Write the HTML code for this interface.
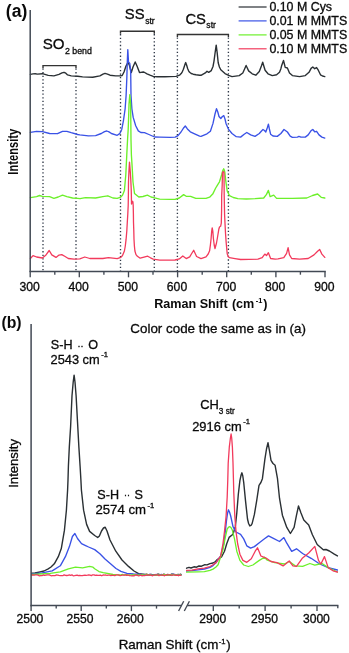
<!DOCTYPE html>
<html lang="en"><head><meta charset="utf-8"><title>Raman spectra</title>
<style>
html,body{margin:0;padding:0;background:#fff;}
svg{display:block;filter:blur(0.35px);}
text{font-family:"Liberation Sans",Arial,Helvetica,sans-serif;fill:#0a0a0a;stroke:#0a0a0a;stroke-width:0.3px;}
.b{font-weight:bold;stroke:none;}
</style></head><body>
<svg width="349" height="653" viewBox="0 0 349 653">
<rect x="0" y="0" width="349" height="653" fill="#ffffff"/>
<g id="panel-a">
<line x1="43.0" y1="68.5" x2="43.0" y2="270.9" stroke="#2e3746" stroke-width="1.35" stroke-dasharray="1.3 2.28"/>
<line x1="76.0" y1="68.5" x2="76.0" y2="270.9" stroke="#2e3746" stroke-width="1.35" stroke-dasharray="1.3 2.28"/>
<polyline points="43.0,68.2 43.0,65.6 76.0,65.6 76.0,68.2" fill="none" stroke="#333" stroke-width="1.4"/>
<line x1="120.5" y1="34.1" x2="120.5" y2="270.9" stroke="#2e3746" stroke-width="1.35" stroke-dasharray="1.3 2.28"/>
<line x1="154.3" y1="34.1" x2="154.3" y2="270.9" stroke="#2e3746" stroke-width="1.35" stroke-dasharray="1.3 2.28"/>
<polyline points="120.5,33.8 120.5,31.2 154.3,31.2 154.3,33.8" fill="none" stroke="#333" stroke-width="1.4"/>
<line x1="177.4" y1="37.4" x2="177.4" y2="270.9" stroke="#2e3746" stroke-width="1.35" stroke-dasharray="1.3 2.28"/>
<line x1="228.4" y1="37.4" x2="228.4" y2="270.9" stroke="#2e3746" stroke-width="1.35" stroke-dasharray="1.3 2.28"/>
<polyline points="177.4,37.1 177.4,34.5 228.4,34.5 228.4,37.1" fill="none" stroke="#333" stroke-width="1.4"/>
<polyline points="30.4,74.4 33.0,73.9 35.2,73.7 37.4,74.1 42.4,73.7 48.2,75.4 53.9,75.9 59.0,74.4 62.0,72.9 64.0,72.3 65.8,73.2 67.6,74.9 71.2,75.9 77.7,76.3 82.6,76.9 92.7,77.3 99.9,75.9 103.0,74.2 105.0,73.4 107.5,74.1 110.0,75.2 115.7,75.9 120.4,75.8 122.2,75.5 124.0,72.0 126.0,66.0 128.0,62.4 129.3,65.0 131.3,72.5 133.0,67.0 135.2,62.0 137.0,66.0 139.5,72.5 141.5,72.3 143.8,72.0 147.0,73.8 150.0,75.2 153.2,76.4 157.0,76.8 165.0,76.8 170.0,76.6 176.0,76.4 179.5,75.2 181.2,73.6 182.4,71.6 183.4,69.2 184.3,66.5 185.1,64.0 185.7,62.6 186.6,65.0 187.7,68.7 188.6,70.8 189.6,72.3 191.2,73.5 193.2,74.2 196.0,74.8 199.6,75.2 201.0,75.3 205.3,72.9 207.0,71.2 208.7,72.4 211.3,70.6 213.0,66.5 214.0,61.1 215.2,52.0 216.2,45.2 217.2,53.0 218.2,62.8 219.4,67.0 220.8,69.8 225.0,73.6 228.6,75.3 232.0,76.6 239.2,75.6 242.8,73.0 244.8,68.5 246.1,65.5 247.3,68.0 248.6,70.9 252.2,73.8 255.8,75.2 259.3,71.6 261.4,66.0 262.7,62.2 263.8,66.0 265.1,70.2 268.0,73.8 272.3,75.6 276.6,74.8 279.5,72.3 280.8,69.0 281.6,65.8 283.5,60.4 284.4,64.0 285.2,67.3 287.4,68.0 289.5,73.0 292.4,75.6 299.6,76.6 305.3,75.6 309.0,72.3 311.1,68.4 312.8,67.0 314.7,68.7 316.6,67.6 318.3,70.2 320.5,74.8 322.5,76.0 324.8,76.6" fill="none" stroke="#2a3034" stroke-width="1.4" stroke-linejoin="round" stroke-linecap="round"/>
<polyline points="30.4,132.4 36.6,131.3 42.4,131.6 49.6,133.5 57.5,133.7 62.5,131.3 66.9,131.3 71.2,132.7 77.7,134.5 79.8,134.9 88.4,135.9 95.6,135.6 101.3,133.5 104.5,131.6 106.8,131.0 109.0,131.9 111.4,133.5 117.2,135.3 119.7,133.6 120.6,132.0 121.8,129.2 123.4,120.8 125.1,109.0 126.1,95.5 126.8,78.7 127.3,61.8 127.8,49.6 128.5,61.8 129.8,63.5 130.7,71.9 131.0,95.5 131.9,109.0 133.2,117.4 135.7,125.8 138.3,130.9 140.8,132.5 144.5,132.7 148.9,134.5 154.6,137.0 160.0,137.1 170.0,137.3 175.2,137.1 178.0,135.6 181.0,132.0 183.8,127.7 185.3,126.0 187.4,128.9 190.3,131.8 194.6,133.8 199.6,136.1 201.0,136.3 207.0,133.8 210.4,131.2 213.0,123.4 215.0,114.0 216.5,108.7 217.8,112.0 219.0,116.5 220.8,118.5 222.4,116.5 223.8,115.6 225.0,119.0 226.0,123.4 228.6,129.4 232.0,133.5 236.3,136.7 240.6,137.1 244.2,134.2 246.8,132.5 250.7,134.9 255.0,136.4 259.3,133.5 261.5,131.0 263.0,129.5 264.5,130.5 265.8,132.0 267.4,127.5 268.4,124.1 269.4,129.0 270.6,134.2 273.0,136.0 277.3,136.4 280.9,133.5 284.0,129.5 287.4,132.0 290.2,136.1 292.4,137.4 297.4,137.1 298.9,136.4 301.0,137.2 305.3,137.1 308.2,134.9 311.1,130.6 312.8,129.5 314.7,131.8 316.6,131.3 319.0,134.9 321.9,137.1 324.8,138.1" fill="none" stroke="#3a52e6" stroke-width="1.35" stroke-linejoin="round" stroke-linecap="round"/>
<polyline points="30.4,197.6 36.6,196.6 39.5,195.5 42.4,196.3 49.6,196.6 53.9,198.3 58.2,197.0 62.5,195.1 66.9,196.6 72.6,198.0 77.7,198.4 80.0,198.7 85.5,197.6 95.6,198.0 102.8,196.6 107.8,195.8 112.9,198.0 117.2,198.4 120.8,197.1 122.6,195.0 124.4,190.6 125.8,174.8 126.8,154.4 127.6,138.8 128.2,129.2 128.7,115.0 129.0,104.0 129.8,94.7 130.6,104.0 130.8,120.0 131.0,140.0 131.4,155.0 132.2,167.6 133.0,182.0 134.5,193.5 138.8,197.0 143.0,196.5 147.4,195.2 151.0,197.0 154.6,197.8 159.7,199.2 170.0,199.3 175.0,199.4 179.3,198.0 183.6,194.6 186.2,196.3 190.6,196.3 195.8,198.4 206.0,198.4 209.6,197.2 212.7,194.1 215.7,188.0 217.6,184.8 219.5,181.8 221.8,174.2 222.8,170.5 223.7,168.8 224.4,170.5 224.9,172.7 225.7,180.3 227.2,191.0 229.5,195.6 233.3,197.5 237.8,198.7 246.4,199.0 255.0,198.7 263.7,198.0 266.5,194.4 268.4,190.4 270.1,196.6 273.7,195.1 276.6,198.4 292.4,198.4 306.8,198.0 312.5,195.5 317.6,194.0 321.2,197.3 324.8,198.0" fill="none" stroke="#6cf02a" stroke-width="1.35" stroke-linejoin="round" stroke-linecap="round"/>
<polyline points="30.4,258.5 33.0,255.6 36.6,257.0 42.4,258.0 46.0,254.9 49.2,250.5 51.8,254.9 56.0,257.4 59.0,255.1 61.8,254.6 64.7,256.3 68.3,258.5 74.0,259.2 79.8,258.9 84.8,257.0 89.8,258.5 102.8,258.5 108.5,257.7 117.2,258.7 120.8,257.4 122.5,255.5 124.4,251.0 125.3,246.0 126.1,239.2 126.8,231.0 127.3,222.3 127.8,214.0 128.2,205.5 128.4,194.0 128.5,182.0 128.9,172.0 129.5,162.1 130.3,171.8 130.8,180.0 131.2,188.7 131.4,197.0 131.5,204.0 132.2,201.2 132.9,201.8 133.2,205.5 133.4,214.0 133.5,222.3 133.8,231.0 134.0,239.2 134.4,246.0 134.9,251.0 136.0,254.6 137.4,256.2 140.2,258.2 144.0,257.2 147.7,256.2 150.5,257.8 153.2,259.1 159.7,260.2 170.0,260.2 175.0,260.0 179.3,258.9 182.8,256.0 186.2,258.6 189.7,256.8 192.0,253.0 193.7,250.3 195.2,253.5 196.6,256.5 201.0,258.6 206.0,256.8 208.2,254.0 209.6,250.8 210.4,245.0 211.1,238.5 211.7,231.0 212.2,227.8 212.8,231.0 213.4,238.5 214.2,245.0 215.0,248.5 216.5,243.0 217.3,238.5 218.8,229.3 219.5,227.0 220.6,226.3 221.3,223.2 221.6,210.0 221.7,195.6 222.2,185.0 222.5,172.7 223.3,171.5 224.0,172.7 224.2,195.6 224.6,215.0 225.0,223.2 225.5,233.0 226.1,241.6 227.2,253.8 228.3,256.8 229.5,257.7 235.0,258.6 240.6,259.5 257.9,259.2 262.2,257.7 264.8,254.1 266.5,255.6 268.4,252.7 270.6,258.5 275.2,259.2 278.0,258.9 283.8,257.7 286.6,253.4 288.1,247.7 289.5,254.9 291.7,258.5 299.6,259.2 308.2,258.5 314.0,254.9 317.6,251.3 319.7,249.5 321.9,254.1 324.8,257.4" fill="none" stroke="#f23a5c" stroke-width="1.3" stroke-linejoin="round" stroke-linecap="round"/>
<line x1="30.2" y1="10" x2="30.2" y2="272.1" stroke="#424954" stroke-width="1.5"/>
<line x1="29.599999999999998" y1="271.5" x2="325.8" y2="271.5" stroke="#424954" stroke-width="1.5"/>
<line x1="30.2" y1="271.5" x2="30.2" y2="277.3" stroke="#424954" stroke-width="1.35"/>
<text x="29.6" y="290.5" font-size="12.2" text-anchor="middle">300</text>
<line x1="54.8" y1="271.5" x2="54.8" y2="274.7" stroke="#424954" stroke-width="1.35"/>
<line x1="79.3" y1="271.5" x2="79.3" y2="277.3" stroke="#424954" stroke-width="1.35"/>
<text x="78.7" y="290.5" font-size="12.2" text-anchor="middle">400</text>
<line x1="103.9" y1="271.5" x2="103.9" y2="274.7" stroke="#424954" stroke-width="1.35"/>
<line x1="128.5" y1="271.5" x2="128.5" y2="277.3" stroke="#424954" stroke-width="1.35"/>
<text x="127.9" y="290.5" font-size="12.2" text-anchor="middle">500</text>
<line x1="153.0" y1="271.5" x2="153.0" y2="274.7" stroke="#424954" stroke-width="1.35"/>
<line x1="177.6" y1="271.5" x2="177.6" y2="277.3" stroke="#424954" stroke-width="1.35"/>
<text x="177.0" y="290.5" font-size="12.2" text-anchor="middle">600</text>
<line x1="202.2" y1="271.5" x2="202.2" y2="274.7" stroke="#424954" stroke-width="1.35"/>
<line x1="226.7" y1="271.5" x2="226.7" y2="277.3" stroke="#424954" stroke-width="1.35"/>
<text x="226.1" y="290.5" font-size="12.2" text-anchor="middle">700</text>
<line x1="251.3" y1="271.5" x2="251.3" y2="274.7" stroke="#424954" stroke-width="1.35"/>
<line x1="275.9" y1="271.5" x2="275.9" y2="277.3" stroke="#424954" stroke-width="1.35"/>
<text x="275.2" y="290.5" font-size="12.2" text-anchor="middle">800</text>
<line x1="300.4" y1="271.5" x2="300.4" y2="274.7" stroke="#424954" stroke-width="1.35"/>
<line x1="325.0" y1="271.5" x2="325.0" y2="277.3" stroke="#424954" stroke-width="1.35"/>
<text x="324.4" y="290.5" font-size="12.2" text-anchor="middle">900</text>
<text x="5.8" y="16.8" font-size="17.6" class="b">(a)</text>
<text transform="translate(18.4,151.7) rotate(-90) scale(0.765,1)" font-size="14.6" class="b" text-anchor="middle">Intensity</text>
<text x="154.2" y="308.3" font-size="12.6" class="b">Raman Shift <tspan dx="0.7">(cm</tspan><tspan dx="1.5" dy="-5.1" font-size="7.4">-1</tspan><tspan dx="1.0" dy="5.1">)</tspan></text>
<text x="42.8" y="49.0" font-size="15.1">SO<tspan dx="0.3" dy="5.1" font-size="8.8">2 bend</tspan></text>
<text x="124.8" y="18.8" font-size="14.8">SS<tspan dx="0.6" dy="4.8" font-size="8.6">str</tspan></text>
<text x="185.4" y="23.8" font-size="14.8">CS<tspan dx="0.4" dy="4.4" font-size="8.6">str</tspan></text>
<line x1="238.6" y1="7.0" x2="266.6" y2="7.0" stroke="#2a3034" stroke-width="1.2"/>
<text x="269.4" y="11.0" font-size="12.4">0.10 M Cys</text>
<line x1="238.6" y1="20.9" x2="266.6" y2="20.9" stroke="#3a52e6" stroke-width="1.2"/>
<text x="269.4" y="24.9" font-size="12.4">0.01 M MMTS</text>
<line x1="238.6" y1="34.9" x2="266.6" y2="34.9" stroke="#6cf02a" stroke-width="1.2"/>
<text x="269.4" y="38.9" font-size="12.4">0.05 M MMTS</text>
<line x1="238.6" y1="48.8" x2="266.6" y2="48.8" stroke="#f23a5c" stroke-width="1.2"/>
<text x="269.4" y="52.8" font-size="12.4">0.10 M MMTS</text>
</g>
<g id="panel-b">
<polyline points="31.6,573.3 35.0,573.0 40.1,571.9 44.0,571.0 48.2,568.8 51.0,567.0 54.3,563.8 58.3,556.7 61.3,548.6 64.4,530.4 66.4,510.2 67.6,490.0 68.0,480.0 68.4,466.3 69.3,447.4 70.6,426.7 72.0,395.8 73.2,382.0 74.1,375.2 75.0,382.0 76.1,395.8 77.5,421.6 78.9,447.4 80.1,466.3 80.9,480.0 81.4,490.0 83.6,510.2 86.6,524.4 89.6,531.4 94.7,535.5 97.7,537.5 99.4,536.0 101.5,531.0 103.5,528.0 105.2,527.2 107.0,531.0 110.0,540.0 115.8,551.2 122.0,560.0 128.5,566.4 134.0,571.0 138.6,573.6 145.0,574.5 147.0,574.3 148.3,575.0 149.6,575.0 150.9,574.5 152.2,574.7 153.5,574.6 154.8,574.9 156.1,575.0 157.4,574.3 158.7,574.2 160.0,575.0 161.3,574.6 162.6,575.0 163.9,574.2 165.2,574.6 166.5,574.9 167.8,574.4 169.1,575.1 170.4,575.1 171.7,574.2 173.0,574.2 174.3,574.7 175.6,575.1 176.9,574.6 178.2,574.4 179.5,574.6 180.8,574.2 181.0,574.7" fill="none" stroke="#2a3034" stroke-width="1.4" stroke-linejoin="round" stroke-linecap="round"/>
<polyline points="31.6,574.0 42.1,572.9 52.2,570.9 60.3,565.8 65.4,556.7 69.4,546.6 72.4,536.5 74.9,533.5 77.5,538.5 81.5,543.6 85.6,545.6 88.6,547.0 94.7,549.6 99.9,553.7 105.0,559.0 110.8,563.9 116.0,568.5 120.9,571.4 127.0,573.3 133.5,574.0 145.0,574.6 147.0,575.1 148.3,575.1 149.6,574.3 150.9,574.4 152.2,575.0 153.5,574.9 154.8,574.8 156.1,574.5 157.4,574.8 158.7,574.8 160.0,574.8 161.3,574.4 162.6,574.6 163.9,574.6 165.2,574.9 166.5,575.1 167.8,575.1 169.1,574.7 170.4,574.7 171.7,574.5 173.0,574.3 174.3,574.3 175.6,574.7 176.9,574.6 178.2,574.6 179.5,575.0 180.8,574.7 181.0,574.7" fill="none" stroke="#3a52e6" stroke-width="1.35" stroke-linejoin="round" stroke-linecap="round"/>
<polyline points="31.6,574.5 50.2,573.3 60.3,571.9 68.4,568.8 75.5,567.2 82.6,567.8 89.6,566.4 93.0,567.2 94.7,568.8 99.0,571.5 103.2,572.7 113.0,574.5 115.0,574.7 116.3,574.9 117.6,574.8 118.9,575.0 120.2,575.0 121.5,574.6 122.8,574.5 124.1,575.2 125.4,574.7 126.7,574.7 128.0,575.3 129.3,574.9 130.6,575.2 131.9,574.9 133.2,575.0 134.5,574.6 135.8,575.0 137.1,575.2 138.4,574.9 139.7,575.1 141.0,575.0 142.3,574.6 143.6,575.1 144.9,575.0 146.2,574.7 147.5,574.5 148.8,575.2 150.1,574.9 151.4,575.1 152.7,575.2 154.0,575.1 155.3,575.2 156.6,574.8 157.9,575.1 159.2,574.9 160.5,575.2 161.8,575.2 163.1,574.6 164.4,574.6 165.7,574.7 167.0,575.3 168.3,574.8 169.6,575.0 170.9,574.7 172.2,574.9 173.5,574.8 174.8,574.8 176.1,575.0 177.4,575.0 178.7,575.2 180.0,575.0 181.0,574.9" fill="none" stroke="#6cf02a" stroke-width="1.3" stroke-linejoin="round" stroke-linecap="round"/>
<polyline points="31.6,575.0 32.9,574.9 34.2,575.2 35.5,574.9 36.8,574.8 38.1,575.2 39.4,575.8 40.7,575.6 42.0,575.6 43.3,575.0 44.6,575.3 45.9,575.1 47.2,574.9 48.5,574.9 49.8,575.0 51.1,575.8 52.4,575.7 53.7,575.6 55.0,575.6 56.3,575.0 57.6,575.1 58.9,575.4 60.2,575.6 61.5,575.7 62.8,575.7 64.1,574.8 65.4,575.4 66.7,575.5 68.0,575.3 69.3,574.9 70.6,575.3 71.9,574.8 73.2,575.8 74.5,575.7 75.8,575.4 77.1,575.1 78.4,575.7 79.7,575.4 81.0,575.7 82.3,575.7 83.6,575.3 84.9,575.2 86.2,575.4 87.5,575.2 88.8,574.9 90.1,575.1 91.4,575.6 92.7,574.8 94.0,574.8 95.3,575.4 96.6,575.1 97.9,575.3 99.2,575.3 100.5,575.1 101.8,575.8 103.1,575.0 104.4,575.2 105.7,575.0 107.0,575.4 108.3,575.1 109.6,575.1 110.9,575.6 112.2,575.1 113.5,575.4 114.8,575.7 116.1,574.9 117.4,574.8 118.7,575.0 120.0,575.6 121.3,575.4 122.6,575.0 123.9,575.1 125.2,574.9 126.5,575.3 127.8,574.8 129.1,575.5 130.4,575.7 131.7,575.8 133.0,575.6 134.3,575.8 135.6,574.8 136.9,575.1 138.2,575.8 139.5,575.6 140.8,575.2 142.1,575.8 143.4,575.4 144.7,575.6 146.0,575.1 147.3,575.0 148.6,575.2 149.9,574.9 151.2,575.2 152.5,575.8 153.8,575.1 155.1,574.8 156.4,574.8 157.7,574.9 159.0,575.6 160.3,575.1 161.6,575.1 162.9,574.9 164.2,575.8 165.5,575.2 166.8,575.0 168.1,574.8 169.4,574.8 170.7,574.9 172.0,575.5 173.3,574.9 174.6,574.8 175.9,575.3 177.2,575.0 178.5,575.8 179.8,574.9 181.0,575.3" fill="none" stroke="#f23a5c" stroke-width="1.3" stroke-linejoin="round" stroke-linecap="round"/>
<polyline points="186.6,568.2 189.0,567.4 191.0,568.0 194.0,566.8 196.5,567.2 199.0,566.0 201.5,566.2 204.4,564.8 207.0,564.9 210.0,563.6 213.0,563.0 215.5,561.5 217.3,559.6 219.5,558.2 221.5,557.0 224.5,551.2 226.8,543.5 229.1,537.4 233.0,534.3 235.3,526.7 236.8,512.9 238.3,494.5 239.9,480.7 241.1,475.0 241.9,472.8 242.8,476.0 243.7,482.3 245.5,500.6 247.5,519.0 248.6,523.5 249.8,525.9 251.0,525.3 252.1,523.6 254.4,514.4 256.7,500.6 259.0,485.3 260.9,482.5 262.4,478.7 264.9,459.2 266.5,449.0 268.0,442.7 269.5,451.0 271.0,460.4 273.0,463.5 275.1,465.3 277.5,478.7 279.5,498.2 282.4,515.2 286.8,527.4 290.4,533.5 294.1,527.4 296.5,515.2 298.5,506.0 300.9,512.8 303.8,520.1 308.7,525.0 312.4,534.7 317.2,544.5 323.3,549.8 326.0,549.5 329.4,551.0 334.3,554.2 337.4,555.9" fill="none" stroke="#2a3034" stroke-width="1.4" stroke-linejoin="round" stroke-linecap="round"/>
<polyline points="186.6,571.1 192.0,570.6 198.0,569.8 204.4,569.0 210.0,567.3 213.0,565.6 216.1,562.5 220.7,555.8 223.8,543.5 225.3,531.3 226.5,520.5 227.5,513.5 228.4,509.8 229.5,512.0 230.7,516.0 233.0,526.7 236.0,532.0 240.6,534.3 243.7,538.9 246.8,545.8 250.6,548.1 254.4,546.6 259.3,542.7 264.5,538.8 268.5,535.9 273.4,538.4 279.5,541.5 283.9,537.6 286.8,543.2 291.7,551.3 296.5,548.8 302.6,553.5 311.1,558.3 319.7,564.0 328.2,567.6 337.4,570.0" fill="none" stroke="#3a52e6" stroke-width="1.35" stroke-linejoin="round" stroke-linecap="round"/>
<polyline points="186.6,572.2 198.0,571.9 204.4,571.6 210.0,570.3 213.0,569.1 216.0,567.0 218.1,564.8 223.0,549.6 225.3,537.4 227.2,529.0 228.6,527.2 229.9,526.7 231.0,527.6 232.2,529.7 234.5,538.9 236.8,551.2 239.9,560.4 243.7,565.0 248.3,566.5 252.9,565.0 259.3,560.4 264.5,557.2 267.3,560.2 274.6,562.7 284.4,564.0 289.2,561.5 295.3,565.9 302.6,566.4 309.9,563.5 314.8,565.2 322.1,563.5 328.2,567.6 337.4,572.0" fill="none" stroke="#6cf02a" stroke-width="1.3" stroke-linejoin="round" stroke-linecap="round"/>
<polyline points="186.6,570.4 192.0,570.2 198.0,568.9 204.4,568.2 210.0,566.5 213.0,564.8 216.1,562.6 220.7,555.8 223.0,543.5 224.5,531.3 226.1,516.0 227.2,497.0 227.8,479.3 228.2,463.3 229.3,447.2 230.4,438.0 231.1,434.0 231.7,438.0 232.4,447.2 233.0,463.0 233.4,478.0 233.8,493.0 234.8,516.0 236.0,531.3 237.6,543.5 239.9,554.2 242.9,560.4 246.8,562.3 251.3,558.8 255.2,551.2 257.5,547.8 259.3,552.0 260.9,556.0 262.4,556.6 266.0,558.0 271.0,561.5 277.0,562.7 283.1,565.9 289.2,561.0 292.9,565.9 296.5,566.4 302.6,557.9 308.7,553.0 314.8,546.4 318.5,560.3 320.9,564.0 324.5,556.6 328.2,567.6 333.0,570.8 337.4,572.0" fill="none" stroke="#f23a5c" stroke-width="1.3" stroke-linejoin="round" stroke-linecap="round"/>
<line x1="31.1" y1="324" x2="31.1" y2="606.2" stroke="#424954" stroke-width="1.5"/>
<line x1="30.5" y1="605.6" x2="181.6" y2="605.6" stroke="#424954" stroke-width="1.5"/>
<line x1="187.2" y1="605.6" x2="338.4" y2="605.6" stroke="#424954" stroke-width="1.5"/>
<line x1="178.6" y1="611.0" x2="183.7" y2="601.3" stroke="#424954" stroke-width="1.35"/>
<line x1="184.3" y1="611.0" x2="189.4" y2="601.3" stroke="#424954" stroke-width="1.35"/>
<line x1="31.1" y1="605.6" x2="31.1" y2="611.1" stroke="#424954" stroke-width="1.35"/>
<text x="29.9" y="623.0" font-size="12.1" text-anchor="middle">2500</text>
<line x1="56.2" y1="605.6" x2="56.2" y2="608.6" stroke="#424954" stroke-width="1.35"/>
<line x1="81.2" y1="605.6" x2="81.2" y2="611.1" stroke="#424954" stroke-width="1.35"/>
<text x="80.0" y="623.0" font-size="12.1" text-anchor="middle">2550</text>
<line x1="106.3" y1="605.6" x2="106.3" y2="608.6" stroke="#424954" stroke-width="1.35"/>
<line x1="131.4" y1="605.6" x2="131.4" y2="611.1" stroke="#424954" stroke-width="1.35"/>
<text x="130.2" y="623.0" font-size="12.1" text-anchor="middle">2600</text>
<line x1="156.5" y1="605.6" x2="156.5" y2="608.6" stroke="#424954" stroke-width="1.35"/>
<line x1="213.3" y1="605.6" x2="213.3" y2="611.1" stroke="#424954" stroke-width="1.35"/>
<text x="212.7" y="623.0" font-size="12.1" text-anchor="middle">2900</text>
<line x1="239.2" y1="605.6" x2="239.2" y2="608.6" stroke="#424954" stroke-width="1.35"/>
<line x1="265.1" y1="605.6" x2="265.1" y2="611.1" stroke="#424954" stroke-width="1.35"/>
<text x="264.5" y="623.0" font-size="12.1" text-anchor="middle">2950</text>
<line x1="291.1" y1="605.6" x2="291.1" y2="608.6" stroke="#424954" stroke-width="1.35"/>
<line x1="317.0" y1="605.6" x2="317.0" y2="611.1" stroke="#424954" stroke-width="1.35"/>
<text x="316.4" y="623.0" font-size="12.1" text-anchor="middle">3000</text>
<line x1="337.8" y1="605.6" x2="337.8" y2="608.2" stroke="#424954" stroke-width="1.35"/>
<text x="1.4" y="327.7" font-size="15.8" class="b">(b)</text>
<text transform="translate(17.5,463.4) rotate(-90)" font-size="13.1" text-anchor="middle">Intensity</text>
<text x="118.7" y="649.3" font-size="13.4">Raman Shift (cm<tspan dx="0.4" dy="-5.6" font-size="7.6">-1</tspan><tspan dx="0.6" dy="5.6">)</tspan></text>
<text x="130.3" y="332.6" font-size="13.4">Color code the same as in (a)</text>
<text x="50.8" y="348.9" font-size="12.6">S-H<tspan dx="5.0" font-size="9" dy="-0.4">··</tspan><tspan dx="4.7" dy="0.4">O</tspan></text>
<text x="50.6" y="363.7" font-size="12.8">2543 cm<tspan dx="1.6" dy="-6.8" font-size="7.6">-1</tspan></text>
<text x="97.3" y="498.5" font-size="12.6">S-H<tspan dx="5.0" font-size="9" dy="-0.4">··</tspan><tspan dx="4.4" dy="0.4">S</tspan></text>
<text x="95.4" y="513.7" font-size="13.2">2574 cm<tspan dx="1.4" dy="-6.0" font-size="7.6">-1</tspan></text>
<text x="200.2" y="409.4" font-size="12.9">CH<tspan dy="4.6" font-size="8.2">3 str</tspan></text>
<text x="192.2" y="430.9" font-size="12.9">2916 cm<tspan dx="1.6" dy="-6.8" font-size="7.6">-1</tspan></text>
</g>
</svg>
</body></html>
